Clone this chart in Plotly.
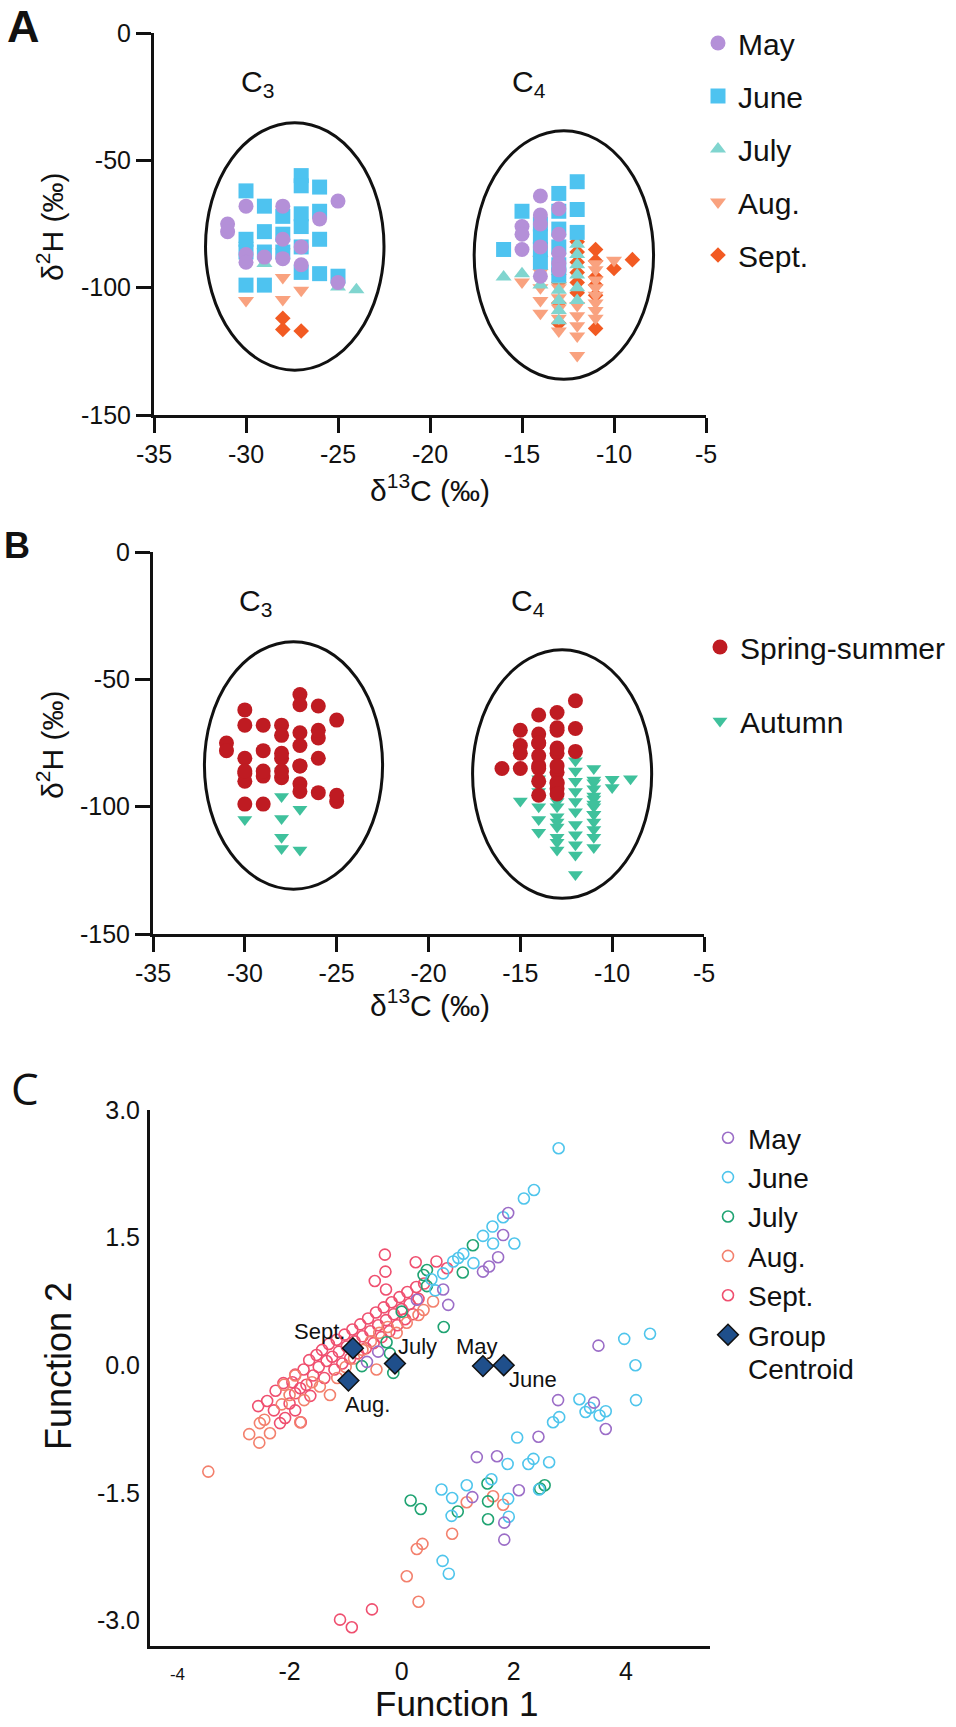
import plotly.graph_objects as go

# ---------------- DATA ----------------
MONTHS = ["May", "June", "July", "Aug.", "Sept."]

# Panel A : delta13C (x) and delta2H (y) by month (C3 + C4 clusters)
MAY_X = [-31, -31, -30, -30, -30, -29, -28, -28, -28, -27, -27, -26, -25, -25,
         -15, -15, -15, -14, -14, -14, -14, -14, -13, -13, -13, -13, -13]
MAY_Y = [-75, -78, -68, -87, -90, -88, -68, -81, -88.6, -84, -91, -73, -66, -98,
         -76, -79, -85, -64, -71.5, -75, -84, -95.5, -69, -79, -86.5, -90.5, -93]

JUNE_X = [-30, -29, -30, -30, -29, -29, -29, -30, -28, -28, -28, -27, -27, -27, -27, -27, -27,
          -26, -26, -26, -26, -25,
          -16, -15, -14, -14, -14, -14, -13, -13, -13, -13, -13, -13, -12, -12, -12]
JUNE_Y = [-62, -68, -81, -86, -78, -86, -99, -99, -72, -79, -86, -56, -60, -71, -76, -84, -94,
          -60.5, -70, -81, -94.5, -95.5,
          -85, -70, -75, -80, -85, -90, -63, -70, -77, -84, -91, -95, -58.4, -69.3, -78.3]

JULY_X = [-30, -29, -25, -24,
          -16, -15, -14, -13, -13, -13, -13, -13, -12, -12, -12, -12, -12, -12]
JULY_Y = [-81, -90.5, -99.7, -100.8,
          -95.8, -94.5, -99, -97, -101, -105, -109, -113, -83, -87, -91, -95, -100, -105]

AUG_X = [-30, -29, -28, -28, -28, -27,
         -15, -14, -14, -14, -14, -14, -13, -13, -13, -13, -13, -13,
         -12, -12, -12, -12, -12, -11, -11, -11, -11, -11, -11, -11, -11, -10]
AUG_Y = [-105, -86, -86, -96, -104.6, -101,
         -97.8, -89, -94, -100, -105, -110, -96, -100, -104, -108, -112, -117,
         -107, -111, -115, -119, -126.6, -90.6, -93, -97, -100, -103, -106, -109, -112, -89.2]

SEPT_X = [-28, -28, -27,
          -13, -13, -13, -12, -12, -12, -12, -12, -12, -11, -11, -11, -11, -11, -11, -10, -9]
SEPT_Y = [-112, -116.4, -117,
          -98, -106, -114, -82, -86, -90, -94, -98, -102, -85, -89.5, -95.8, -99, -103, -116, -92.5, -89]

# ellipses (x0, x1, y0, y1) in data units
ELLIPSE_C3 = [-32.2, -22.5, -132.4, -35.2]
ELLIPSE_C4 = [-17.6, -7.85, -136.0, -38.4]

# Panel C : discriminant function scores
C_MAY_X = [1.90, 1.81, 1.72, 1.56, 1.45, 0.74, 0.83, 3.51, -0.62, -0.42, 0.27, 2.79, 3.43, 3.64,
           2.44, 1.34, 1.70, 2.09, 1.26, 1.83, 1.83]
C_MAY_Y = [1.79, 1.53, 1.27, 1.16, 1.10, 0.89, 0.71, 0.23, 0.04, 0.16, 0.77, -0.41, -0.44, -0.75,
           -0.84, -1.08, -1.07, -1.47, -1.55, -1.85, -2.05]

C_JUNE_X = [2.80, 2.36, 2.18, 1.81, 1.62, 1.45, 1.63, 2.01, 1.28, 1.10, 1.01, 0.92, 0.74, 0.53, 0.60,
            3.97, 4.43, 4.17, 3.17, 3.28, 3.36, 3.53, 3.64, 4.18, 2.70, 2.81, 2.06, 1.89, 2.26, 2.35,
            2.63, 1.60, 1.16, 0.71, 0.90, 0.89, 1.90, 1.91, 2.45, 0.73, 0.84]
C_JUNE_Y = [2.55, 2.06, 1.96, 1.74, 1.63, 1.52, 1.43, 1.43, 1.20, 1.31, 1.26, 1.22, 1.08, 1.01, 0.88,
            0.31, 0.37, 0.00, -0.40, -0.55, -0.50, -0.59, -0.54, -0.41, -0.67, -0.61, -0.85, -1.16, -1.16, -1.10,
            -1.14, -1.34, -1.41, -1.46, -1.56, -1.77, -1.57, -1.78, -1.46, -2.30, -2.45]

C_JULY_X = [1.27, 1.09, 0.75, 0.45, 0.39, 0.45, 0.00, -0.27, -0.71, -0.15, -0.21,
            1.53, 1.54, 1.00, 1.54, 2.47, 2.55, 0.16, 0.34]
C_JULY_Y = [1.41, 1.09, 0.45, 1.12, 1.06, 0.93, 0.63, 0.27, -0.01, -0.09, 0.14,
            -1.39, -1.60, -1.72, -1.81, -1.45, -1.41, -1.59, -1.69]

C_AUG_X = [-3.45, -2.72, -2.54, -2.53, -2.45, -2.35, -2.14, -2.10, -2.00, -1.90, -1.81, -1.74, -1.60,
           -1.46, -1.28, -1.15, -1.00, -0.85, -0.70, -0.55, -0.45, -0.40, -0.25, -0.09, 0.09, 0.30,
           0.39, 0.56, 1.16, 1.63, 1.81, 0.90, 0.37, 0.27, 0.09, 0.30]
C_AUG_Y = [-1.25, -0.81, -0.91, -0.68, -0.64, -0.80, -0.46, -0.23, -0.35, -0.12, -0.67, -0.41, -0.20,
           -0.25, -0.35, -0.15, -0.02, 0.08, 0.18, 0.28, -0.05, 0.38, 0.45, 0.38, 0.50, 0.59,
           0.65, 0.75, -1.61, -1.54, -1.64, -1.98, -2.10, -2.16, -2.48, -2.78]

C_SEPT_X = [-2.56, -2.40, -2.28, -2.25, -2.17, -2.11, -2.08, -2.00, -1.95, -1.90, -1.90, -1.90, -1.81,
            -1.80, -1.75, -1.70, -1.65, -1.63, -1.58, -1.52, -1.48, -1.42, -1.38, -1.34, -1.30, -1.24,
            -1.20, -1.16, -1.12, -1.06, -1.02, -0.98, -0.92, -0.88, -0.84, -0.78, -0.74, -0.70, -0.64,
            -0.60, -0.56, -0.50, -0.48, -0.46, -0.42, -0.36, -0.32, -0.30, -0.29, -0.28, -0.28, -0.22,
            -0.18, -0.14, -0.08, -0.04, 0.00, 0.06, 0.10, 0.14, 0.20, 0.25, 0.26, 0.30, 0.40, 0.62,
            0.81, -0.53, -1.10, -0.89]
C_SEPT_Y = [-0.48, -0.42, -0.53, -0.30, -0.68, -0.21, -0.62, -0.45, -0.20, -0.53, -0.33, -0.11, -0.27,
            -0.67, -0.05, -0.23, 0.06, -0.36, -0.12, 0.12, -0.02, 0.18, -0.15, 0.05, 0.25, 0.10,
            -0.05, 0.30, 0.16, 0.02, 0.36, 0.22, 0.08, 0.42, 0.28, 0.14, 0.48, 0.34, 0.20,
            0.55, 0.40, 0.26, 0.99, 0.62, 0.47, 0.33, 0.68, 1.30, 1.10, 0.89, 0.53, 0.40,
            0.74, 0.60, 0.47, 0.80, 0.66, 0.54, 0.86, 0.72, 0.60, 1.21, 0.92, 0.78, 0.96, 1.22,
            1.14, -2.87, -2.99, -3.08]

CENTROID_NAMES = ["Sept.", "Aug.", "July", "May", "June"]
CENTROID_X = [-0.87, -0.95, -0.12, 1.45, 1.82]
CENTROID_Y = [0.20, -0.18, 0.02, -0.01, 0.00]
CENTROID_LABEL_X = [-1.47, -0.61, 0.28, 1.34, 2.34]
CENTROID_LABEL_Y = [0.40, -0.46, 0.22, 0.22, -0.17]

AB_XTICKS = [-35, -30, -25, -20, -15, -10, -5]
AB_XTICKTEXT = ["-35", "-30", "-25", "-20", "-15", "-10", "-5"]
AB_YTICKS = [-150, -100, -50, 0]
AB_YTICKTEXT = ["-150", "-100", "-50", "0"]
C_XTICKS = [-4, -2, 0, 2, 4]
C_XTICKTEXT = ["<span style='font-size:17px'>-4</span>", "-2", "0", "2", "4"]
C_YTICKS = [-3.0, -1.5, 0.0, 1.5, 3.0]
C_YTICKTEXT = ["-3.0", "-1.5", "0.0", "1.5", "3.0"]

# ---------------- FIGURE ----------------
W, H = 956, 1727
FONT = "Liberation Sans, Arial, Helvetica, sans-serif"


def PX(x):
    return x / W


def PY(y):
    return 1 - y / H


fig = go.Figure()

A_DATA = {
    "May": (MAY_X, MAY_Y, "circle", "#b490d8", 15),
    "June": (JUNE_X, JUNE_Y, "square", "#4ec3f0", 15),
    "July": (JULY_X, JULY_Y, "triangle-up", "#80d5cf", 14),
    "Aug.": (AUG_X, AUG_Y, "triangle-down", "#f9a27f", 14),
    "Sept.": (SEPT_X, SEPT_Y, "diamond", "#f25a22", 12),
}
# draw later months first so earlier months sit on top
for rank, m in reversed(list(enumerate(MONTHS))):
    xs, ys, sym, col, sz = A_DATA[m]
    fig.add_trace(go.Scatter(
        x=xs, y=ys, mode="markers", name=m, xaxis="x", yaxis="y",
        marker=dict(symbol=sym, color=col, size=sz, line=dict(width=0)),
        legend="legend", legendgroup="A" + m, legendrank=rank + 1,
    ))

# Panel B : seasons built from the month data
SPRING_X = MAY_X + JUNE_X
SPRING_Y = MAY_Y + JUNE_Y
AUTUMN_X = AUG_X + SEPT_X
AUTUMN_Y = AUG_Y + SEPT_Y
fig.add_trace(go.Scatter(
    x=AUTUMN_X, y=AUTUMN_Y, mode="markers", name="Autumn", xaxis="x2", yaxis="y2",
    marker=dict(symbol="triangle-down", color="#3fc19c", size=13, line=dict(width=0)),
    legend="legend2", legendgroup="BAut", legendrank=2))
fig.add_trace(go.Scatter(
    x=SPRING_X, y=SPRING_Y, mode="markers", name="Spring-summer", xaxis="x2", yaxis="y2",
    marker=dict(symbol="circle", color="#bf1b22", size=15, line=dict(width=0)),
    legend="legend2", legendgroup="BSpr", legendrank=1))

# Panel C
C_DATA = {
    "May": (C_MAY_X, C_MAY_Y, "#9b6dc7"),
    "June": (C_JUNE_X, C_JUNE_Y, "#4fc5ec"),
    "July": (C_JULY_X, C_JULY_Y, "#1fa372"),
    "Aug.": (C_AUG_X, C_AUG_Y, "#f3806d"),
    "Sept.": (C_SEPT_X, C_SEPT_Y, "#ef4f6f"),
}
for rank, m in reversed(list(enumerate(MONTHS))):
    xs, ys, col = C_DATA[m]
    fig.add_trace(go.Scatter(
        x=xs, y=ys, mode="markers", name=m, xaxis="x3", yaxis="y3",
        marker=dict(symbol="circle-open", color=col, size=11, line=dict(width=1.6, color=col)),
        legend="legend3", legendrank=rank + 1,
    ))
fig.add_trace(go.Scatter(
    x=CENTROID_X, y=CENTROID_Y, mode="markers", name="Group", xaxis="x3", yaxis="y3",
    marker=dict(symbol="diamond", color="#1f4f8b", size=16, line=dict(width=1.5, color="#111111")),
    legend="legend3", legendrank=10,
))

axis_common = dict(showgrid=False, zeroline=False, showline=True, linewidth=3, linecolor="#111111",
                   tickfont=dict(family=FONT, size=25, color="#111111"))

fig.update_layout(
    width=W, height=H, margin=dict(l=0, r=0, t=0, b=0, autoexpand=False),
    paper_bgcolor="white", plot_bgcolor="white",
    font=dict(family=FONT, color="#111111"),
    xaxis=dict(domain=[PX(154), PX(706)], range=[-35, -5], tickvals=AB_XTICKS, ticktext=AB_XTICKTEXT,
               anchor="y", ticks="outside", ticklen=15, tickwidth=3, tickcolor="#111111",
               ticklabelstandoff=0, **axis_common),
    yaxis=dict(domain=[PY(415), PY(33)], range=[-150, 0], tickvals=AB_YTICKS, ticktext=AB_YTICKTEXT,
               anchor="x", ticks="outside", ticklen=15, tickwidth=3, tickcolor="#111111",
               ticklabelstandoff=0, **axis_common),
    xaxis2=dict(domain=[PX(153), PX(704)], range=[-35, -5], tickvals=AB_XTICKS, ticktext=AB_XTICKTEXT,
                anchor="y2", ticks="outside", ticklen=15, tickwidth=3, tickcolor="#111111",
                ticklabelstandoff=0, **axis_common),
    yaxis2=dict(domain=[PY(934), PY(552)], range=[-150, 0], tickvals=AB_YTICKS, ticktext=AB_YTICKTEXT,
                anchor="x2", ticks="outside", ticklen=15, tickwidth=3, tickcolor="#111111",
                ticklabelstandoff=0, **axis_common),
    xaxis3=dict(domain=[PX(150), PX(710)], range=[-4.49, 5.5], tickvals=C_XTICKS, ticktext=C_XTICKTEXT,
                anchor="y3", ticks="", ticklabelstandoff=1, **axis_common),
    yaxis3=dict(domain=[PY(1646), PY(1110)], range=[-3.3, 3.0], tickvals=C_YTICKS, ticktext=C_YTICKTEXT,
                anchor="x3", ticks="", ticklabelstandoff=2, **axis_common),
    legend=dict(x=PX(698), y=PY(17), xanchor="left", yanchor="top", font=dict(size=30, family=FONT),
                tracegroupgap=11, bgcolor="rgba(0,0,0,0)"),
    legend2=dict(x=PX(700), y=PY(621), xanchor="left", yanchor="top", font=dict(size=30, family=FONT),
                 tracegroupgap=32, bgcolor="rgba(0,0,0,0)"),
    legend3=dict(x=PX(708), y=PY(1113), xanchor="left", yanchor="top", font=dict(size=28, family=FONT),
                 bgcolor="rgba(0,0,0,0)"),
    showlegend=True,
)

shapes = []
for xr, yr in (("x", "y"), ("x2", "y2")):
    for e in (ELLIPSE_C3, ELLIPSE_C4):
        shapes.append(dict(type="circle", xref=xr, yref=yr, x0=e[0], x1=e[1], y0=e[2], y1=e[3],
                           line=dict(color="#111111", width=3), layer="below"))
fig.update_layout(shapes=shapes)

ann = []
for xr, yr in (("x", "y"), ("x2", "y2")):
    ann.append(dict(x=-29.4, y=-20, xref=xr, yref=yr, text="C<sub>3</sub>", showarrow=False,
                    font=dict(size=30, family=FONT)))
    ann.append(dict(x=-14.6, y=-20, xref=xr, yref=yr, text="C<sub>4</sub>", showarrow=False,
                    font=dict(size=30, family=FONT)))
for name, lx, ly in zip(CENTROID_NAMES, CENTROID_LABEL_X, CENTROID_LABEL_Y):
    ann.append(dict(x=lx, y=ly, xref="x3", yref="y3", text=name, showarrow=False,
                    font=dict(size=22, family=FONT)))


def paper_text(text, x, y, size, angle=0, family=FONT, xanchor="center"):
    return dict(x=PX(x), y=PY(y), xref="paper", yref="paper", text=text, showarrow=False,
                textangle=angle, xanchor=xanchor, yanchor="middle",
                font=dict(size=size, family=family, color="#111111"))


ann += [
    paper_text("<b>A</b>", 23, 26, 45),
    paper_text("<b>B</b>", 17, 545, 36),
    paper_text("C", 25, 1088, 44, family="Open Sans, Noto Sans, sans-serif"),
    paper_text("δ<sup>2</sup>H (‰)", 50, 227, 30, angle=-90),
    paper_text("δ<sup>13</sup>C (‰)", 430, 488, 30),
    paper_text("δ<sup>2</sup>H (‰)", 50, 745, 30, angle=-90),
    paper_text("δ<sup>13</sup>C (‰)", 430, 1003, 30),
    paper_text("Function 2", 58, 1366, 36, angle=-90),
    paper_text("Function 1", 456, 1703, 35),
    paper_text("Centroid", 746, 1369, 28, xanchor="left"),
]
fig.update_layout(annotations=ann)

fig.write_html("out.html")
